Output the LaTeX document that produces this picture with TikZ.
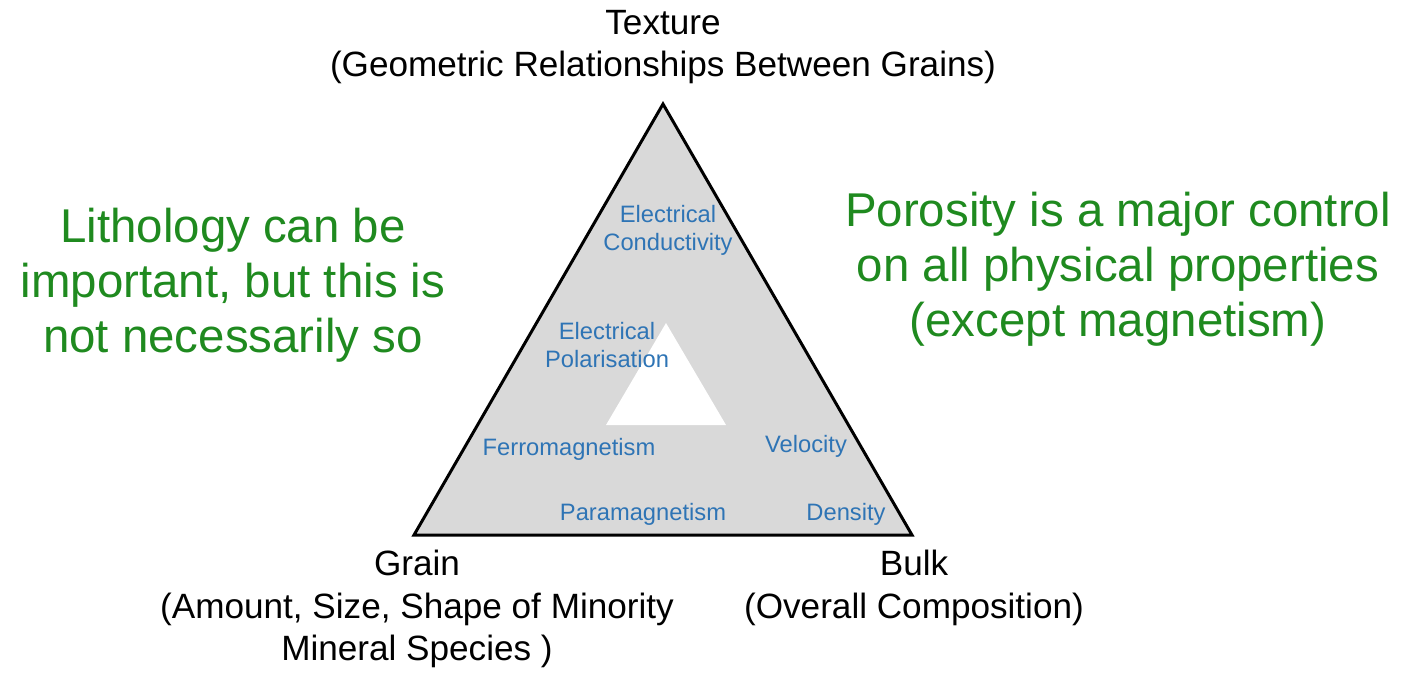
\documentclass[tikz,border=0pt]{standalone}
\usepackage{fontspec}
\setmainfont{Liberation Sans}
\usepackage{xcolor}
\definecolor{notegreen}{RGB}{31,138,31}
\definecolor{propblue}{RGB}{46,116,181}
\definecolor{trifill}{RGB}{217,217,217}

\begin{document}
\begin{tikzpicture}[x=0.02cm, y=-0.02cm,
  corner/.style={font=\fontsize{20}{24.4}\selectfont, align=center, inner sep=0pt},
  note/.style={font=\fontsize{27}{31.2}\selectfont, align=center, text=notegreen, inner sep=0pt},
  prop/.style={font=\fontsize{13.5}{15.9}\selectfont, align=center, text=propblue, inner sep=0pt}]

\useasboundingbox (0,0) rectangle (1422,681);

% =================== triangles ===================

% outer triangle: T top, G bottom left, B bottom right
\coordinate (T) at (663,104);
\coordinate (G) at (414,535);
\coordinate (B) at (912,535);
\filldraw[fill=trifill, line width=1.7pt, line join=miter] (T) -- (G) -- (B) -- cycle;

% white hole in the middle
\coordinate (iT) at (666,323);
\coordinate (iG) at (606,425);
\coordinate (iB) at (726,425);
\fill[white] (iT) -- (iG) -- (iB) -- cycle;

% =================== corner labels ===================
\node[corner] (texture) at (663,47) {Texture\\(Geometric Relationships Between Grains)};
\node[corner] (grain) at (417,609) {Grain\\(Amount, Size, Shape of Minority\\Mineral Species )};
\node[corner] (bulk) at (914,588) {Bulk\\(Overall Composition)};

% =================== properties ===================
\node[prop] (cond)  at (668,230) {Electrical\\Conductivity};
\node[prop] (polar) at (607,345) {Electrical\\Polarisation};
\node[prop] (ferro) at (569,449) {Ferromagnetism};
\node[prop] (vel)   at (806,446) {Velocity};
\node[prop] (para)  at (643,514) {Paramagnetism};
\node[prop] (dens)  at (846,514) {Density};

% =================== side notes ===================
\node[note] (litho) at (233,285) {Lithology can be\\important, but this is\\not necessarily so};
\node[note] (poro)  at (1118,269) {Porosity is a major control\\on all physical properties\\(except magnetism)};

\end{tikzpicture}
\end{document}
